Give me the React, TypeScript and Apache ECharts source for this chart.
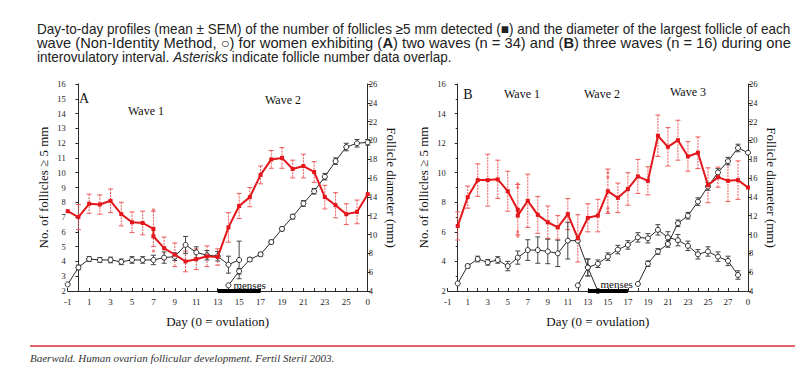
import React, { useEffect, useRef } from "react";
import * as echarts from "echarts";

// ---------- Tick labels ----------
const xTickLabelsA = ["-1", "1", "3", "5", "7", "9", "11", "13", "15", "17", "19", "21", "23", "25", "0"];
const xTickLabelsB = ["-1", "1", "3", "5", "7", "9", "11", "13", "15", "17", "19", "21", "23", "25", "27", "0"];

// ---------- Panel A (two waves) ----------
const redDaysA = [-1, 0, 1, 2, 3, 4, 5, 6, 7, 7, 8, 9, 10, 11, 12, 13, 14, 15, 16, 17, 18, 19, 20, 21, 22, 23, 24, 25, 26, 27];
const redMeanA = [7.4, 7.0, 7.9, 7.85, 8.1, 7.2, 6.65, 6.6, 6.2, 5.7, 4.9, 4.45, 4.0, 4.15, 4.35, 4.3, 6.3, 7.75, 8.35, 9.85, 10.9, 11.0, 10.25, 10.45, 10.05, 8.35, 7.8, 7.2, 7.35, 8.55];
const redSemA = [0, 0.85, 0.65, 0.65, 0.8, 0.8, 0.7, 0.8, 1.2, 0, 0.75, 0.8, 0.7, 0.7, 0.7, 0.55, 1.0, 0.85, 0.65, 0.6, 0.6, 0.7, 0.6, 0.8, 0.7, 0.8, 0.85, 0.7, 0.8, 0];

const blk1DaysA = [-1, 0, 1, 2, 3, 4, 5, 6, 7, 8, 9, 10, 11, 12, 13, 14, 15];
const blk1MeanA = [4.7, 6.5, 7.4, 7.3, 7.3, 7.1, 7.3, 7.3, 7.3, 7.55, 7.65, 8.9, 8.1, 7.8, 7.7, 6.8, 7.3];
const blk1SemA = [0, 0.25, 0.25, 0.25, 0.3, 0.3, 0.35, 0.35, 0.5, 0.6, 0.4, 0.9, 0.6, 0.5, 0.5, 0.9, 2.0];

const blk2DaysA = [14, 15, 16, 17, 18, 19, 20, 21, 22, 23, 24, 25, 26, 27];
const blk2MeanA = [4.6, 6.1, 7.35, 7.9, 9.2, 10.6, 11.9, 13.3, 14.6, 16.15, 17.8, 19.3, 19.7, 19.8];
const blk2SemA = [0, 0.3, 0.2, 0.2, 0.2, 0.2, 0.25, 0.3, 0.3, 0.35, 0.35, 0.4, 0.4, 0.3];

const mensesA = [13, 17];
const asteriskDaysA = [7, 7];
const asteriskValsA = [7.5, 4.7];

// ---------- Panel B (three waves) ----------
const redDaysB = [0, 1, 2, 3, 4, 5, 6, 6, 7, 8, 9, 10, 11, 12, 13, 14, 15, 16, 17, 18, 19, 20, 21, 22, 23, 24, 25, 26, 27, 28, 29];
const redMeanB = [6.4, 8.35, 9.5, 9.5, 9.55, 8.75, 7.5, 7.1, 8.1, 7.15, 6.65, 6.3, 7.2, 5.56, 6.95, 7.1, 8.75, 8.3, 8.9, 9.75, 9.45, 12.5, 11.75, 12.2, 11.1, 11.35, 9.15, 9.7, 9.45, 9.5, 9.0];
const redSemB = [0.95, 0.75, 1.1, 1.75, 1.3, 1.35, 1.7, 0, 1.8, 1.25, 1.1, 0.8, 1.05, 1.6, 0.95, 1.1, 1.5, 1.0, 1.1, 1.15, 0.95, 1.4, 1.3, 1.35, 1.0, 1.07, 1.18, 0.68, 1.4, 1.3, 0];

const blk1DaysB = [0, 1, 2, 3, 4, 5, 6, 7, 8, 9, 10, 11, 12, 13, 14];
const blk1MeanB = [4.8, 6.65, 7.4, 7.05, 7.3, 6.65, 7.55, 8.35, 8.35, 8.2, 8.0, 9.35, 9.35, 6.5, 4.0];
const blk1SemB = [0, 0.2, 0.3, 0.3, 0.35, 0.5, 0.7, 1.1, 1.4, 1.3, 1.4, 1.95, 0, 0.9, 0];

const blk2DaysB = [12, 13, 14, 15, 16, 17, 18, 19, 20, 21, 22, 23, 24, 25, 26, 27, 28];
const blk2MeanB = [4.6, 6.5, 6.9, 7.65, 8.4, 8.9, 9.7, 9.6, 10.5, 9.7, 9.4, 8.8, 7.9, 8.2, 7.65, 7.2, 5.7];
const blk2SemB = [0, 0.9, 0.4, 0.4, 0.45, 0.45, 0.5, 0.5, 0.55, 0.6, 0.6, 0.5, 0.5, 0.5, 0.5, 0.5, 0.45];

const blk3DaysB = [18, 19, 20, 21, 22, 23, 24, 25, 26, 27, 28, 29];
const blk3MeanB = [4.75, 6.9, 8.2, 9.0, 11.2, 12.0, 13.5, 15.1, 16.6, 17.8, 19.2, 18.7];
const blk3SemB = [0, 0.3, 0.3, 0.35, 0.35, 0.35, 0.4, 0.4, 0.4, 0.4, 0.4, 0];

const mensesB = [13, 17];
const asteriskDaysB = [6, 6, 6, 6, 15, 15, 15, 15];
const asteriskValsB = [9.25, 9.0, 6.0, 5.7, 10.0, 9.7, 7.6, 7.35];

// ---------- Texts ----------
const titleLine1Parts = [
  ["n", "Day-to-day profiles (mean \u00b1 SEM) of the number of follicles \u22655 mm detected (\u25a0) and the diameter of the largest follicle of each"],
];
const titleLine2Parts = [
  ["n", "wave (Non-Identity Method, \u25cb) for women exhibiting ("],
  ["b", "A"],
  ["n", ") two waves (n = 34) and ("],
  ["b", "B"],
  ["n", ") three waves (n = 16) during one"],
];
const titleLine3Parts = [
  ["n", "interovulatory interval. "],
  ["i", "Asterisks"],
  ["n", " indicate follicle number data overlap."],
];
const caption = "Baerwald. Human ovarian follicular development. Fertil Steril 2003.";

const RED = "#e3161b";
const RED_ERR = "#ef5a5a";
const BLK = "#2a2a2a";
const SERIF = "'Liberation Serif', 'Times New Roman', serif";
const SANS = "'Liberation Sans', Arial, sans-serif";
const TITLE_SIZE = 14;

function zip3(d: number[], m: number[], s: number[]) {
  return d.map((x, i) => [x, m[i], s[i]]);
}
function zip2(d: number[], m: number[]) {
  return d.map((x, i) => [x, m[i]]);
}

function errRender(color: string, dashed: boolean) {
  return (params: any, api: any) => {
    const x = api.value(0);
    const y = api.value(1);
    const e = api.value(2);
    if (!e) return null;
    const top = api.coord([x, y + e]);
    const bot = api.coord([x, y - e]);
    const hw = 2.5;
    const style: any = { stroke: color, lineWidth: 1 };
    const vStyle: any = dashed ? { stroke: color, lineWidth: 1, lineDash: [2, 1] } : style;
    return {
      type: "group",
      children: [
        { type: "line", shape: { x1: top[0], y1: top[1], x2: bot[0], y2: bot[1] }, style: vStyle },
        { type: "line", shape: { x1: top[0] - hw, y1: top[1], x2: top[0] + hw, y2: top[1] }, style },
        { type: "line", shape: { x1: bot[0] - hw, y1: bot[1], x2: bot[0] + hw, y2: bot[1] }, style },
      ],
    };
  };
}

const partFont = (kind: string) =>
  `${kind === "i" ? "italic " : ""}${kind === "b" ? "bold " : ""}${TITLE_SIZE}px ${SANS}`;

function measureParts(parts: string[][]) {
  const c = document.createElement("canvas");
  const ctx = c.getContext("2d")!;
  let w = 0;
  for (const p of parts) {
    ctx.font = partFont(p[0]);
    w += ctx.measureText(p[1]).width;
  }
  return w;
}

export default function App() {
  const ref = useRef<HTMLDivElement>(null);

  useEffect(() => {
    if (!ref.current) return;
    const chart = echarts.init(ref.current, undefined, { renderer: "svg" });

    const xAxisFor = (gridIndex: number, max: number, labels: string[]) => ({
      type: "value",
      gridIndex,
      min: -1,
      max,
      interval: 1,
      splitLine: { show: false },
      axisLine: { lineStyle: { color: BLK, width: 1 } },
      axisTick: { inside: true, length: 3, lineStyle: { color: BLK } },
      axisLabel: {
        fontFamily: SERIF,
        fontSize: 9,
        color: "#222",
        margin: 6,
        formatter: (v: number) => {
          const k = (v + 1) / 2;
          return Number.isInteger(k) ? labels[k] ?? "" : "";
        },
      },
      name: "Day (0 = ovulation)",
      nameLocation: "middle",
      nameGap: 24,
      nameTextStyle: { fontFamily: SERIF, fontSize: 13, color: "#111" },
    });

    const leftAxis = (gridIndex: number, interval: number) => ({
      type: "value",
      gridIndex,
      position: "left",
      min: 2,
      max: 16,
      interval,
      splitLine: { show: false },
      axisLine: { show: true, lineStyle: { color: BLK, width: 1 } },
      axisTick: { show: true, length: 3, lineStyle: { color: BLK } },
      minorTick: { show: interval === 2, splitNumber: 2, length: 2, lineStyle: { color: BLK } },
      axisLabel: { fontFamily: SERIF, fontSize: 8.5, color: "#222", margin: 2 },
      name: "No. of follicles \u2265 5 mm",
      nameLocation: "middle",
      nameGap: 18,
      nameTextStyle: { fontFamily: SERIF, fontSize: 13, color: "#111" },
    });

    const rightAxis = (gridIndex: number) => ({
      type: "value",
      gridIndex,
      position: "right",
      min: 4,
      max: 26,
      interval: 2,
      splitLine: { show: false },
      axisLine: { show: true, lineStyle: { color: BLK, width: 1 } },
      axisTick: { show: true, length: 3, lineStyle: { color: BLK } },
      axisLabel: { fontFamily: SERIF, fontSize: 8.5, color: "#222", margin: 1 },
      name: "Follicle diameter (mm)",
      nameLocation: "middle",
      nameRotate: -90,
      nameGap: 17,
      nameTextStyle: { fontFamily: SERIF, fontSize: 13, color: "#111" },
    });

    const redLine = (xi: number, yi: number, d: number[], m: number[]) => ({
      type: "line",
      xAxisIndex: xi,
      yAxisIndex: yi,
      data: zip2(d, m),
      lineStyle: { color: RED, width: 2 },
      itemStyle: { color: RED },
      symbol: "rect",
      symbolSize: 4,
      z: 4,
    });

    const blkLine = (xi: number, yi: number, d: number[], m: number[], mensesPos?: "left" | "right") => {
      const data: any[] = zip2(d, m).map((p, i) =>
        i === 0 && mensesPos
          ? {
              value: p,
              label: {
                show: true,
                position: mensesPos,
                distance: 2,
                formatter: "menses",
                fontFamily: SERIF,
                fontSize: 11,
                color: "#111",
              },
            }
          : p
      );
      return {
        type: "line",
        xAxisIndex: xi,
        yAxisIndex: yi,
        data,
        lineStyle: { color: BLK, width: 1 },
        itemStyle: { color: "#fff", borderColor: BLK, borderWidth: 1 },
        symbol: "circle",
        symbolSize: 5,
        z: 3,
      };
    };

    const errSeries = (xi: number, yi: number, d: number[], m: number[], s: number[], color: string, dashed: boolean) => ({
      type: "custom",
      xAxisIndex: xi,
      yAxisIndex: yi,
      data: zip3(d, m, s),
      renderItem: errRender(color, dashed),
      encode: { x: 0, y: 1 },
      z: 2,
    });

    const mensesSeries = (xi: number, yi: number, r: number[]) => ({
      type: "line",
      xAxisIndex: xi,
      yAxisIndex: yi,
      data: r.map((x) => [x, 2]),
      symbol: "none",
      lineStyle: { color: "#000", width: 4 },
      z: 5,
    });

    const asteriskSeries = (xi: number, yi: number, d: number[], v: number[]) => ({
      type: "scatter",
      xAxisIndex: xi,
      yAxisIndex: yi,
      data: zip2(d, v),
      symbol: "circle",
      symbolSize: 3,
      itemStyle: { color: RED_ERR },
      z: 3,
    });

    const targetW = 754;
    const w1 = measureParts(titleLine1Parts);
    const w2 = measureParts(titleLine2Parts);
    const s1 = targetW / w1;
    const s2 = targetW / w2;

    const richStyles = {
      n: { fontFamily: SANS, fontSize: TITLE_SIZE, color: "#222" },
      b: { fontFamily: SANS, fontSize: TITLE_SIZE, fontWeight: "bold", color: "#222" },
      i: { fontFamily: SANS, fontSize: TITLE_SIZE, fontStyle: "italic", color: "#222" },
    };
    const toRich = (parts: string[][]) => parts.map((p) => `{${p[0]}|${p[1]}}`).join("");
    const titleText = (parts: string[][], y: number, sx: number) => ({
      type: "text",
      x: 37,
      y,
      scaleX: sx,
      style: {
        text: toRich(parts),
        rich: richStyles,
        font: `${TITLE_SIZE}px ${SANS}`,
        fill: "#222",
        textAlign: "left",
        textVerticalAlign: "middle",
      },
    });

    const ann = (text: string, x: number, y: number, size: number) => ({
      type: "text",
      x,
      y,
      style: { text, font: `${size}px ${SERIF}`, fill: "#111", textAlign: "center", textVerticalAlign: "middle" },
    });

    const option: any = {
      animation: false,
      backgroundColor: "#ffffff",
      grid: [
        { left: 67.7, right: 812 - 367.7, top: 84, bottom: 383 - 291 },
        { left: 447.7, right: 812 - 748, top: 84, bottom: 383 - 291 },
      ],
      xAxis: [xAxisFor(0, 27, xTickLabelsA), xAxisFor(1, 29, xTickLabelsB)],
      yAxis: [leftAxis(0, 1), rightAxis(0), leftAxis(1, 2), rightAxis(1)],
      series: [
        // Panel A
        errSeries(0, 0, redDaysA, redMeanA, redSemA, RED_ERR, true),
        errSeries(0, 1, blk1DaysA, blk1MeanA, blk1SemA, "#444", false),
        errSeries(0, 1, blk2DaysA, blk2MeanA, blk2SemA, "#444", false),
        blkLine(0, 1, blk1DaysA, blk1MeanA),
        blkLine(0, 1, blk2DaysA, blk2MeanA, "right"),
        redLine(0, 0, redDaysA, redMeanA),
        mensesSeries(0, 0, mensesA),
        asteriskSeries(0, 0, asteriskDaysA, asteriskValsA),
        // Panel B
        errSeries(1, 2, redDaysB, redMeanB, redSemB, RED_ERR, true),
        errSeries(1, 3, blk1DaysB, blk1MeanB, blk1SemB, "#444", false),
        errSeries(1, 3, blk2DaysB, blk2MeanB, blk2SemB, "#444", false),
        errSeries(1, 3, blk3DaysB, blk3MeanB, blk3SemB, "#444", false),
        blkLine(1, 3, blk1DaysB, blk1MeanB),
        blkLine(1, 3, blk2DaysB, blk2MeanB),
        blkLine(1, 3, blk3DaysB, blk3MeanB, "left"),
        redLine(1, 2, redDaysB, redMeanB),
        mensesSeries(1, 2, mensesB),
        asteriskSeries(1, 2, asteriskDaysB, asteriskValsB),
      ],
      graphic: [
        titleText(titleLine1Parts, 29, s1),
        titleText(titleLine2Parts, 43, s2),
        titleText(titleLine3Parts, 57, s1),
        // panel annotations
        ann("A", 84, 98, 14),
        ann("Wave 1", 146, 111, 12),
        ann("Wave 2", 283, 100, 12),
        ann("B", 468, 94, 14),
        ann("Wave 1", 522, 94, 12),
        ann("Wave 2", 602, 94, 12),
        ann("Wave 3", 688, 92, 12),
        // footer
        { type: "line", shape: { x1: 30, y1: 346, x2: 795, y2: 346 }, style: { stroke: "#d8323c", lineWidth: 1.5 } },
        {
          type: "text",
          x: 30,
          y: 358,
          style: { text: caption, font: `italic 11px ${SERIF}`, fill: "#333", textAlign: "left", textVerticalAlign: "middle" },
        },
      ],
    };

    chart.setOption(option);
    return () => chart.dispose();
  }, []);

  return (
    <div
      ref={ref}
      style={{ position: "absolute", left: 0, top: 0, width: 812, height: 383, background: "#fff" }}
    />
  );
}
